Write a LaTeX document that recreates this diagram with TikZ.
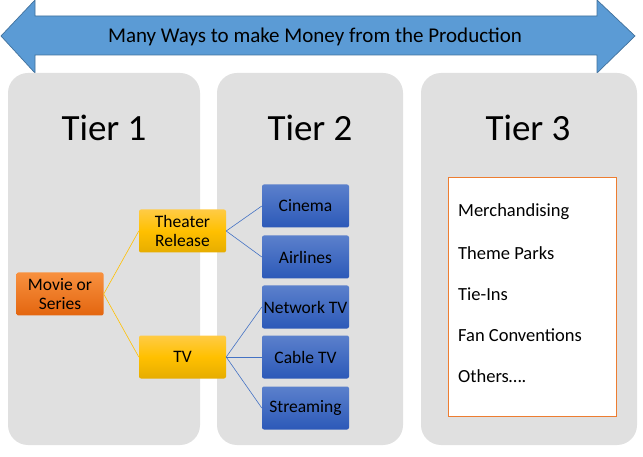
\documentclass[tikz,border=0pt]{standalone}
\usepackage{fontspec}
\setmainfont{Carlito}
\definecolor{panelgray}{HTML}{E0E0E0}
\definecolor{arrowblue}{HTML}{5B9BD5}
\definecolor{arrowedge}{HTML}{41719C}
\definecolor{orTop}{HTML}{F8913F}
\definecolor{orBot}{HTML}{E3650F}
\definecolor{yeTop}{HTML}{FFCB45}
\definecolor{yeMid}{HTML}{FFC000}
\definecolor{yeBot}{HTML}{E6AD00}
\definecolor{blTop}{HTML}{5B80CC}
\definecolor{blBot}{HTML}{2C59B8}
\definecolor{boxorange}{HTML}{ED7D31}
\definecolor{lineyellow}{HTML}{FFC000}
\definecolor{lineblue}{HTML}{4472C4}
\begin{document}
\begin{tikzpicture}[x=1pt,y=-1pt,
  panel/.style={fill=panelgray,draw=none,rounded corners=20pt},
  tier/.style={font=\fontsize{37}{40}\selectfont,anchor=center},
  basebox/.style={minimum width=87pt,minimum height=43pt,inner sep=1pt,align=center,
     font=\fontsize{17.5}{19}\selectfont,rounded corners=2pt},
  orangebox/.style={basebox,top color=orTop,bottom color=orBot},
  yellowbox/.style={basebox,top color=yeTop,bottom color=yeBot,middle color=yeMid},
  bluebox/.style={basebox,top color=blTop,bottom color=blBot},
  yline/.style={draw=lineyellow,line width=0.6pt},
  bline/.style={draw=lineblue,line width=0.6pt},
  item/.style={anchor=west,inner sep=0pt,font=\fontsize{18.5}{21}\selectfont}
]
\useasboundingbox[fill=white] (0,0) rectangle (643,457);
% top arrow
\draw[fill=arrowblue,draw=arrowedge,line width=0.7pt]
  (1,36) -- (35,0) -- (35,16) -- (597,16) -- (597,0) -- (635,36) -- (597,73) -- (597,55)
  -- (35,55) -- (35,73) -- cycle;
\node[font=\fontsize{21}{24}\selectfont] (title) at (315,37) {Many Ways to make Money from the Production};
% panels
\fill[panel] (8,73) rectangle (200,445);
\fill[panel] (217,73) rectangle (403,445);
\fill[panel] (421,73) rectangle (637,445);
\node[tier] (t1) at (104,128) {Tier 1};
\node[tier] (t2) at (310,128) {Tier 2};
\node[tier] (t3) at (528,128) {Tier 3};
% nodes
\node[orangebox] (movie) at (60,294) {Movie or\\Series};
\node[yellowbox] (theater) at (182.5,231) {Theater\\Release};
\node[yellowbox] (tv) at (182.5,357) {TV};
\node[bluebox] (cinema) at (305.5,206) {Cinema};
\node[bluebox] (airlines) at (305.5,257) {Airlines};
\node[bluebox] (network) at (305.5,307) {Network TV};
\node[bluebox] (cable) at (305.5,357) {Cable TV};
\node[bluebox] (stream) at (305.5,408) {Streaming};
% connectors
\draw[yline] (movie.east) -- (theater.west);
\draw[yline] (movie.east) -- (tv.west);
\draw[bline] (theater.east) -- (cinema.west);
\draw[bline] (theater.east) -- (airlines.west);
\draw[bline] (tv.east) -- (network.west);
\draw[bline] (tv.east) -- (cable.west);
\draw[bline] (tv.east) -- (stream.west);
% tier 3 box
\node[draw=boxorange,fill=white,line width=0.8pt,minimum width=168pt,minimum height=239pt,inner sep=0pt] (tbox) at (532,296.5) {};
\node[item] (i1) at (458,212) {Merchandising};
\node[item] (i2) at (458,253) {Theme Parks};
\node[item] (i3) at (458,294) {Tie-Ins};
\node[item] (i4) at (458,335) {Fan Conventions};
\node[item] (i5) at (458,376) {Others\dots.};
\end{tikzpicture}
\end{document}
